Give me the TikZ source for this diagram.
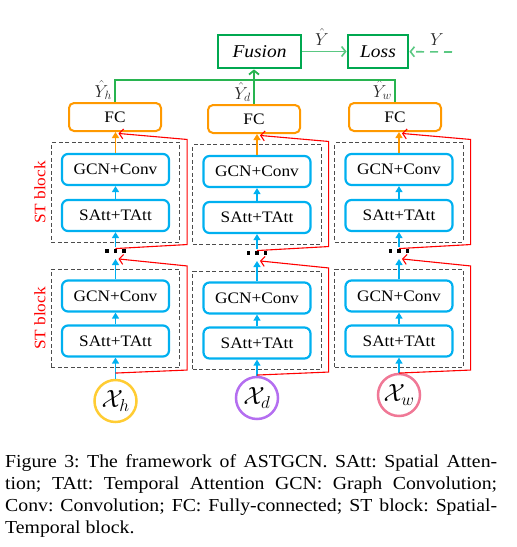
\documentclass[tikz,border=0pt]{standalone}
\usepackage{amsmath}
\usepackage{fontspec}
\setmainfont[FakeStretch=1.08]{Liberation Serif}
\usepackage{tikz}
\usepackage{xcolor}
\usetikzlibrary{positioning, arrows.meta, calc, fit}

\definecolor{layerblue}{RGB}{0,176,240}
\definecolor{fcorange}{RGB}{255,153,0}
\definecolor{headgreen}{RGB}{0,168,80}
\definecolor{busgreen}{RGB}{40,180,80}
\definecolor{softgreen}{RGB}{90,200,130}
\definecolor{hgold}{RGB}{255,204,51}
\definecolor{dpurple}{RGB}{180,110,240}
\definecolor{wpink}{RGB}{240,120,150}

\tikzset{
    layerbox/.style={draw=layerblue, line width=2.2pt, rounded corners=6pt, minimum width=107pt, minimum height=31pt, inner sep=0pt, font=\fontsize{16}{19}\selectfont},
    fcbox/.style={draw=fcorange, line width=2pt, rounded corners=5pt, minimum width=92pt, minimum height=28pt, inner sep=0pt, font=\fontsize{16}{19}\selectfont},
    headbox/.style={draw=headgreen, line width=2.8pt, minimum height=33pt, inner sep=0pt, font=\fontsize{18}{21}\selectfont\itshape},
    stframe/.style={draw=black!70, dash pattern=on 4pt off 2.5pt, line width=0.9pt, inner xsep=9.5pt, inner ysep=10pt},
    inputnode/.style={circle, line width=2.5pt, minimum size=42pt, inner sep=0pt, font=\fontsize{25}{27}\selectfont},
    flow/.style={-{Triangle[width=7pt,length=6pt]}, line width=1.3pt, draw=layerblue},
    resid/.style={-{Straight Barb[length=4pt,width=10pt]}, line width=1.1pt, red},
    outlabel/.style={inner sep=0pt, font=\fontsize{17}{20}\selectfont, black!85},
    capline/.style={anchor=base west, inner sep=0pt, font=\fontsize{18.3}{22}\selectfont\frenchspacing},
}

\begin{document}
\begin{tikzpicture}[x=1pt, y=-1pt]
    \useasboundingbox (0,0) rectangle (517,547);

    % Fusion and loss on top
    \node[headbox, minimum width=83pt] (fusion) at (259.5, 51.5) {Fusion};
    \node[headbox, minimum width=60pt] (loss) at (378, 51.5) {Loss};
    \coordinate (truth) at (452, 52);
    \coordinate (bus) at (0, 80);

    % One column per component
    \foreach \c/\x/\dy/\fx/\cy/\col in {h/115.5/0/115/401/hgold, d/257/2/254/398/dpurple, w/399/0/395/395/wpink} {
        \node[inputnode, draw=\col] (in\c) at (\x, \cy) {$\mathcal{X}_\c$};
        \node[layerbox] (sal\c) at (\x, 341+\dy) {SAtt+TAtt};
        \node[layerbox] (gcl\c) at (\x, 296+\dy) {GCN+Conv};
        \node[layerbox] (sau\c) at (\x, 215.5+\dy) {SAtt+TAtt};
        \node[layerbox] (gcu\c) at (\x, 169.5+\dy) {GCN+Conv};
        \node[fcbox] (fc\c) at (\fx, 117+\dy) {FC};
        \node[stframe, fit=(sal\c)(gcl\c)] (stl\c) {};
        \node[stframe, fit=(sau\c)(gcu\c)] (stu\c) {};
        \node[inner sep=0pt] (dots\c) at (\x, 251+\dy) {\rule{3.5pt}{3.5pt}\hspace{5pt}\rule{3.5pt}{3.5pt}\hspace{5pt}\rule{3.5pt}{3.5pt}};
        \node[outlabel, anchor=south east] (yhat\c) at ($(fc\c.north)+(-3,-2)$) {$\hat{Y}_\c$};

        % Main flow
        \coordinate (lowtop\c) at (\x, 259+\dy);
        \coordinate (uppin\c) at (\x, 247+\dy);
        \draw[flow] (in\c) -- (sal\c);
        \draw[flow] (sal\c) -- (gcl\c);
        \draw[flow] (gcl\c) -- (lowtop\c);
        \draw[flow] (uppin\c) -- (sau\c);
        \draw[flow] (sau\c) -- (gcu\c);
        \draw[-{Triangle[width=7pt,length=6pt]}, line width=1.3pt, fcorange] (gcu\c) -- (gcu\c |- fc\c.south);

        % Residual links
        \draw[resid] ($(stl\c.south)+(0,5)$) -- ($(stl\c.south east)+(7,2)$) -- ($(stl\c.north east)+(7,-3)$) -- ($(stl\c.north)+(3,-10)$);
        \draw[resid] ($(stu\c.south)+(0,6)$) -- ($(stu\c.south east)+(7,2)$) -- ($(stu\c.north east)+(7,-3)$) -- ($(stu\c.north)+(3,-9)$);
    }

    % Block labels
    \node[red, rotate=90, font=\fontsize{16}{19}\selectfont] (blku) at ($(stuh.west)+(-11,0)$) {ST block};
    \node[red, rotate=90, font=\fontsize{16}{19}\selectfont] (blkl) at ($(stlh.west)+(-11,0)$) {ST block};

    % Outputs into fusion
    \draw[busgreen, line width=1.8pt] (fch.north) |- (bus -| fcw.north) -- (fcw.north);
    \draw[-{Straight Barb[length=4pt,width=10pt]}, busgreen, line width=1.8pt] (fcd.north) -- (fcd.north |- fusion.south);
    \draw[-{Straight Barb[length=4pt,width=10pt]}, softgreen, line width=1.6pt] (fusion) -- (loss);
    \node[outlabel] (yhat) at (322, 37) {$\hat{Y}$};
    \draw[-{Straight Barb[length=4pt,width=10pt]}, softgreen, line width=1.6pt, dash pattern=on 8pt off 6pt] (truth) -- (loss);
    \node[outlabel] (ytrue) at (437, 40) {$Y$};

    % Caption
    \node[capline] (cap1) at (5, 467) {\makebox[492pt][s]{Figure 3: The framework of ASTGCN. SAtt: Spatial Atten-}};
    \node[capline] (cap2) at (5, 489) {\makebox[492pt][s]{tion; TAtt: Temporal Attention GCN: Graph Convolution;}};
    \node[capline] (cap3) at (5, 511) {\makebox[492pt][s]{Conv: Convolution; FC: Fully-connected; ST block: Spatial-}};
    \node[capline] (cap4) at (5, 533) {Temporal block.};
\end{tikzpicture}
\end{document}
